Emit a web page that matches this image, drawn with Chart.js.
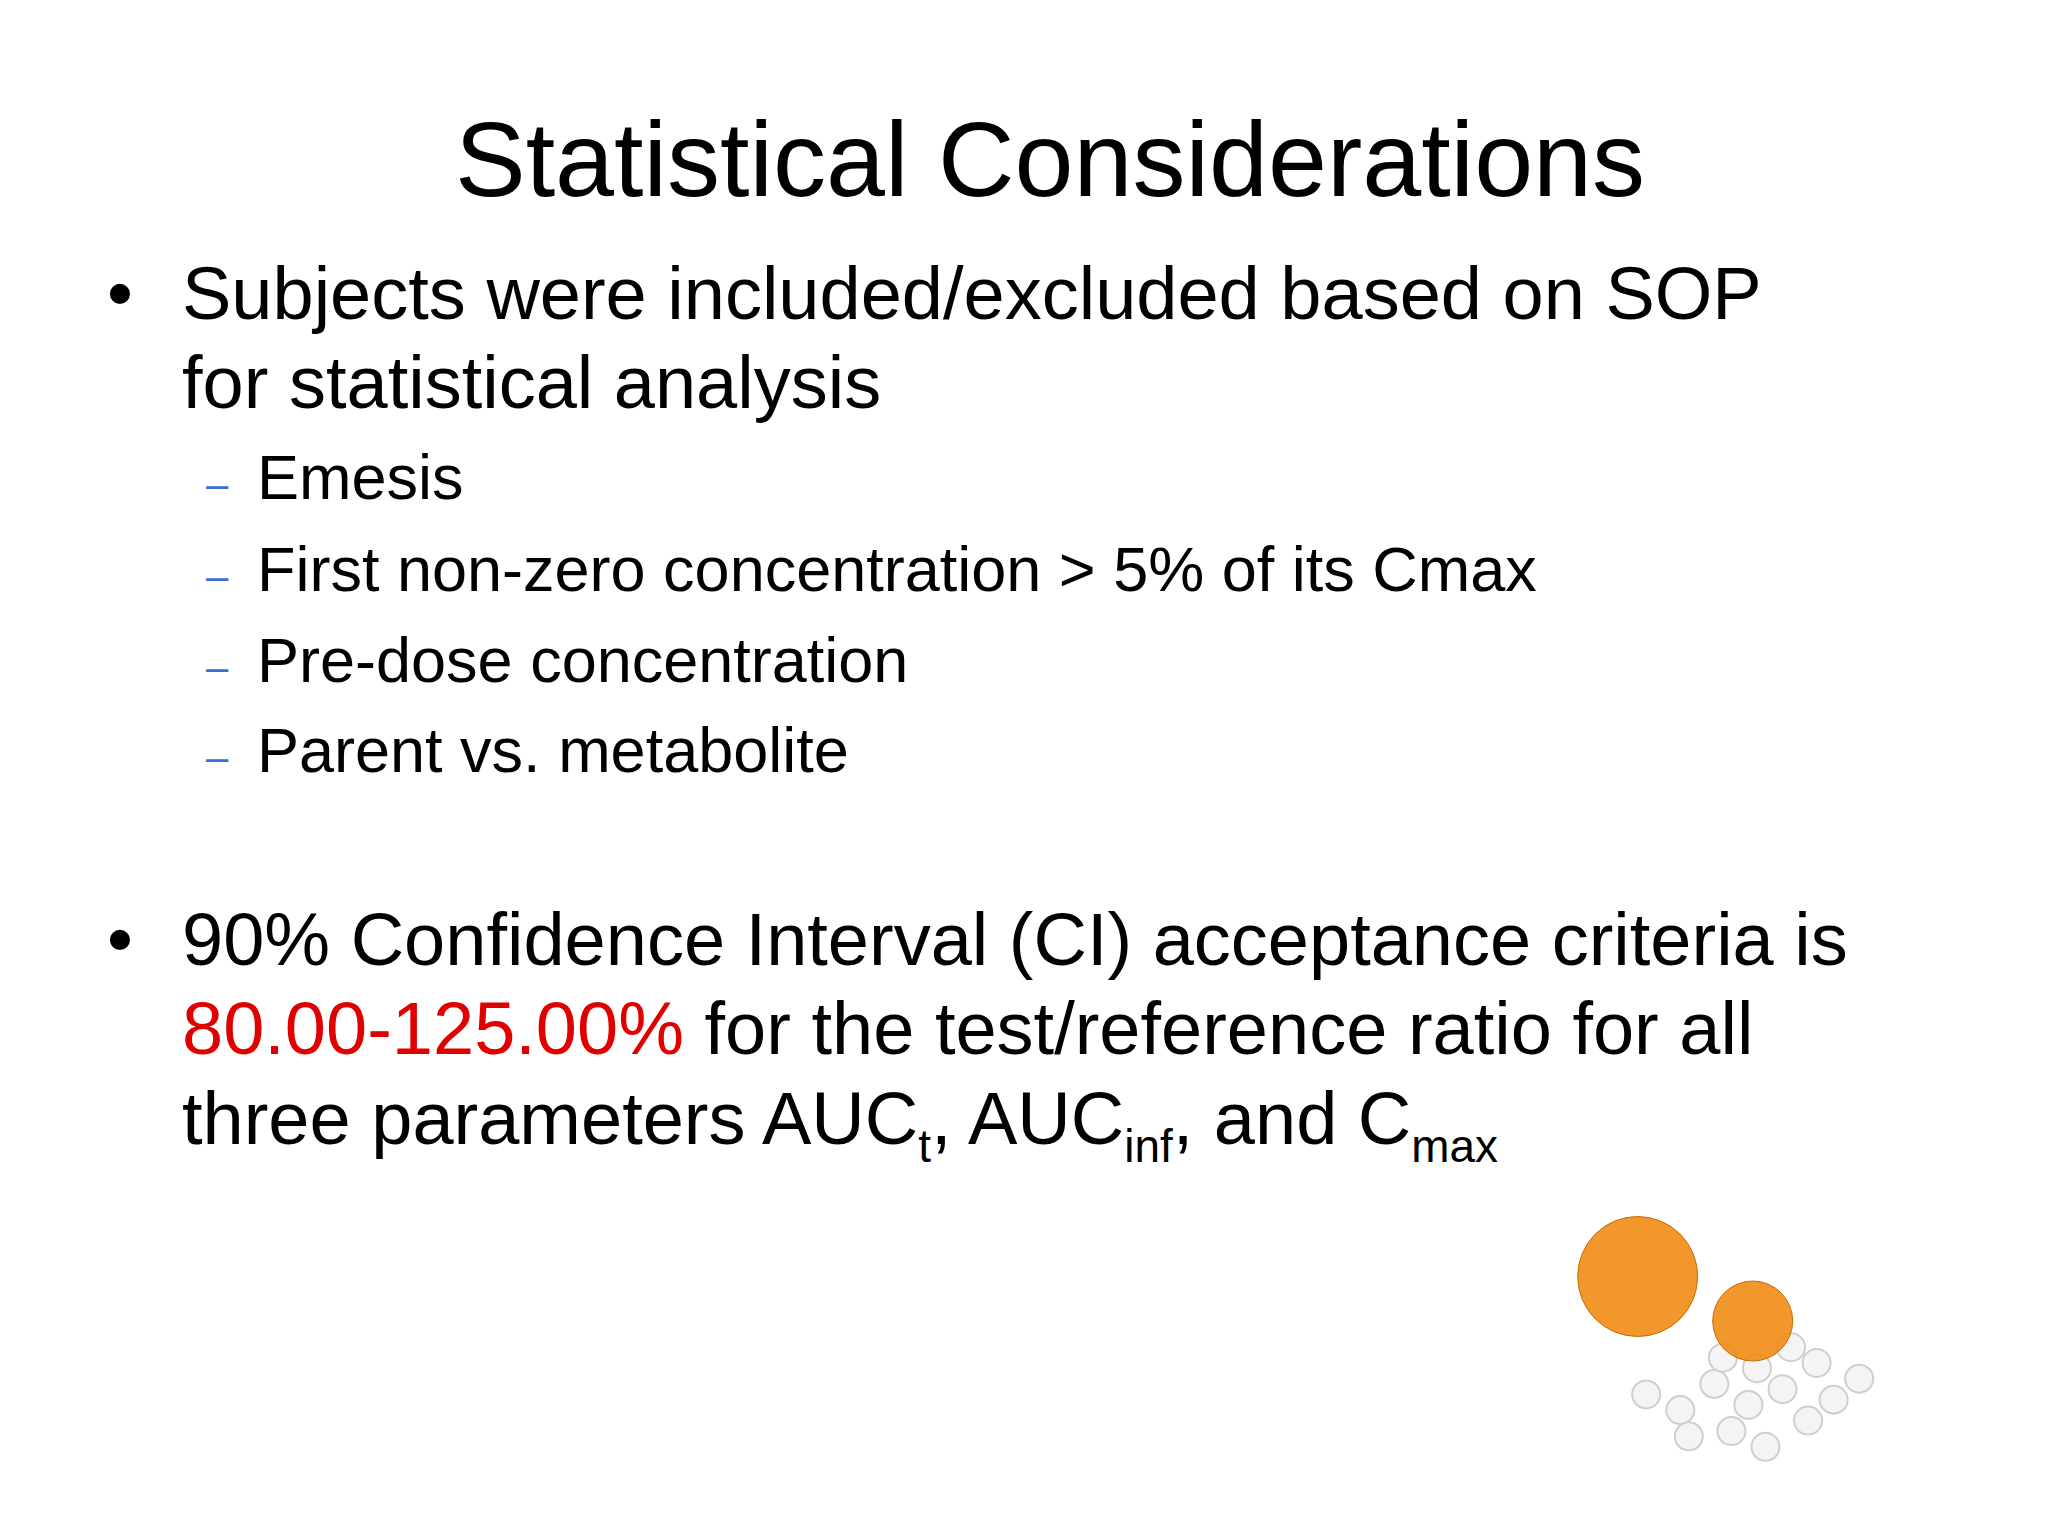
<!DOCTYPE html>
<html><head><meta charset="utf-8">
<script src="https://cdn.jsdelivr.net/npm/chart.js@4"></script>
<style>
html,body{margin:0;padding:0;background:#fff;width:2048px;height:1534px;overflow:hidden;font-family:"Liberation Sans",Arial,sans-serif;color:#000}
.t{position:absolute;line-height:1;white-space:nowrap}
.title{font-size:106px;left:0;width:2100px;text-align:center;top:106px}
.m{font-size:74px}
.s{font-size:63px}
.dash{color:#3a6fd0;font-size:40px}
.red{color:#e00000}
sub{font-size:0.62em;vertical-align:-0.4em;line-height:0}
#wrap{position:absolute;left:1500px;top:1150px;width:548px;height:384px}
</style></head><body>
<div class="t title">Statistical Considerations</div>
<div class="t m" style="left:107px;top:257px">•</div>
<div class="t m" style="left:182px;top:257px">Subjects were included/excluded based on SOP</div>
<div class="t m" style="left:182px;top:346px">for statistical analysis</div>
<div class="t dash" style="left:206px;top:464px">–</div><div class="t s" style="left:257px;top:446px">Emesis</div>
<div class="t dash" style="left:206px;top:556px">–</div><div class="t s" style="left:257px;top:538px">First non-zero concentration &gt; 5% of its Cmax</div>
<div class="t dash" style="left:206px;top:647px">–</div><div class="t s" style="left:257px;top:629px">Pre-dose concentration</div>
<div class="t dash" style="left:206px;top:737px">–</div><div class="t s" style="left:257px;top:719px">Parent vs. metabolite</div>
<div class="t m" style="left:107px;top:903px">•</div>
<div class="t m" style="left:182px;top:903px">90% Confidence Interval (CI) acceptance criteria is</div>
<div class="t m" style="left:182px;top:992px"><span class="red">80.00-125.00%</span> for the test/reference ratio for all</div>
<div class="t m" style="left:182px;top:1082px">three parameters AUC<sub>t</sub>, AUC<sub>inf</sub>, and C<sub>max</sub></div>
<div id="wrap"><canvas id="c"></canvas></div>
<script>
const pillX=[20,28,36,44,52,30,40,48,58,64,70,60,54,46,38];
const pillY=[30,24,34,26,32,14,16,10,20,28,36,42,48,40,44];
const bottleX=[18,45];
const bottleY=[75,58];
new Chart(document.getElementById('c'),{type:'bubble',
data:{datasets:[
{data:bottleX.map((x,i)=>({x,y:bottleY[i],r:i?40:60})),backgroundColor:'rgba(240,140,20,0.9)',borderColor:'#c86a00'},
{data:pillX.map((x,i)=>({x,y:pillY[i],r:14})),backgroundColor:'#f4f4f4',borderColor:'#cfcfcf',borderWidth:2}
]},
options:{responsive:true,maintainAspectRatio:false,animation:false,plugins:{legend:{display:false},tooltip:{enabled:false}},
scales:{x:{display:false,min:0,max:100},y:{display:false,min:0,max:100}}}});
</script>
</body></html>
